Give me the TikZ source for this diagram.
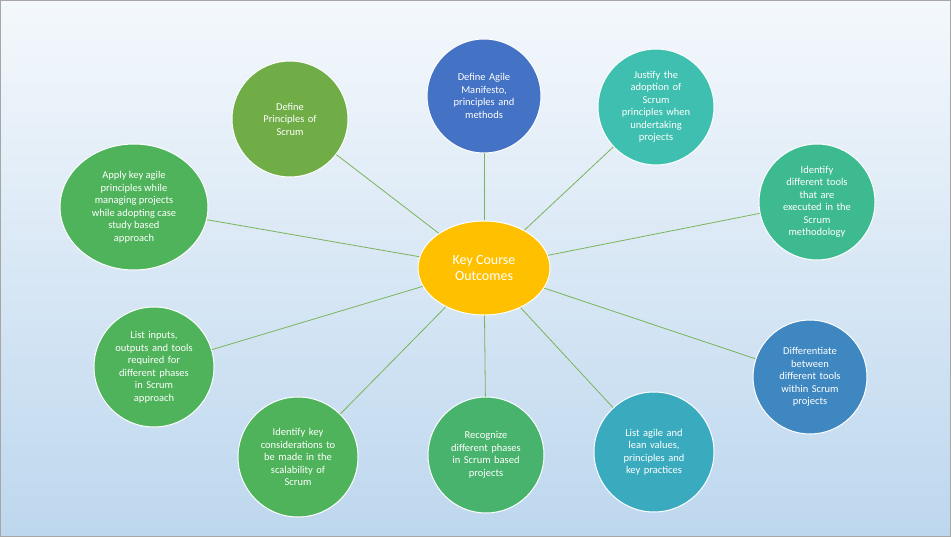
\documentclass[tikz,border=0pt]{standalone}
\usepackage{fontspec}
\setmainfont{Carlito}
\usetikzlibrary{shapes.geometric}
\definecolor{bgtop}{HTML}{F4F8FC}
\definecolor{bgbot}{HTML}{BDD7EE}
\definecolor{cgreen}{HTML}{70AD47}
\definecolor{cgreen2}{HTML}{4EB35A}
\definecolor{cblue}{HTML}{4472C4}
\definecolor{cteal}{HTML}{3FBFB0}
\definecolor{cteal2}{HTML}{3DBA8F}
\definecolor{cblue2}{HTML}{3F87C1}
\definecolor{cteal3}{HTML}{3AABBF}
\definecolor{cgreen3}{HTML}{48B36C}
\definecolor{cgold}{HTML}{FFC000}
\definecolor{linec}{HTML}{7BB35A}
\begin{document}
\begin{tikzpicture}[x=1pt,y=-1pt,
  bub/.style={circle,draw=white,line width=1pt,minimum size=#1,inner sep=0pt,text=white,align=center,font=\fontsize{10.5}{12.5}\selectfont},
  conn/.style={draw=linec,line width=0.8pt}]
\useasboundingbox (0,0) rectangle (951,537);
\shade[top color=bgtop,bottom color=bgbot,draw=gray!70] (0.5,0.5) rectangle (950.5,536.5);
\node[ellipse,fill=cgold,draw=white,line width=1pt,minimum width=132,minimum height=94,text=white,align=center,font=\fontsize{14}{16}\selectfont] (c) at (484,268) {Key Course\\Outcomes};
\node[bub=116,fill=cgreen,text width=80] (n1) at (290,119) {Define\\Principles of\\Scrum};
\node[bub=114,fill=cblue,text width=80] (n2) at (484,96) {Define Agile\\Manifesto,\\principles and\\methods};
\node[bub=116,fill=cteal,text width=84] (n3) at (656,107) {Justify the\\adoption of\\Scrum\\principles when\\undertaking\\projects};
\node[bub=116,fill=cteal2,text width=84] (n4) at (817,202) {Identify\\different tools\\that are\\executed in the\\Scrum\\methodology};
\node[bub=114,fill=cblue2,text width=84] (n5) at (810,377) {Differentiate\\between\\different tools\\within Scrum\\projects};
\node[bub=120,fill=cteal3,text width=84] (n6) at (654,452) {List agile and\\lean values,\\principles and\\key practices};
\node[bub=116,fill=cgreen3,text width=84] (n7) at (486,455) {Recognize\\different phases\\in Scrum based\\projects};
\node[bub=120,fill=cgreen2,text width=88] (n8) at (298,457) {Identify key\\considerations to\\be made in the\\scalability of\\Scrum};
\node[bub=120,fill=cgreen2,text width=88] (n9) at (154,367) {List inputs,\\outputs and tools\\required for\\different phases\\in Scrum\\approach};
\node[ellipse,fill=cgreen2,draw=white,line width=1pt,minimum width=148,minimum height=126,inner sep=0pt,text=white,align=center,font=\fontsize{10.5}{12.5}\selectfont] (n10) at (134,207) {Apply key agile\\principles while\\managing projects\\while adopting case\\study based\\approach};
\foreach \n in {n1,n2,n3,n4,n5,n6,n7,n8,n9,n10} \draw[conn] (c) -- (\n);
\end{tikzpicture}
\end{document}
